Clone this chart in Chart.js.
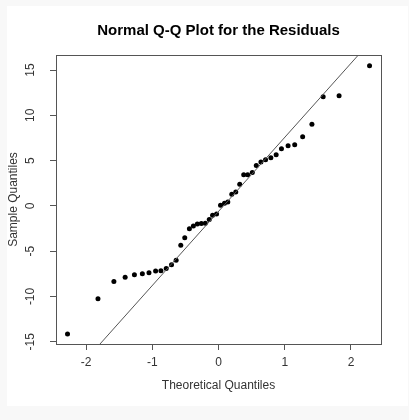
<!DOCTYPE html>
<html>
<head>
<meta charset="utf-8">
<script src="https://cdn.jsdelivr.net/npm/chart.js@4.4.0/dist/chart.umd.min.js"></script>
<style>
  html, body { margin: 0; padding: 0; background: #f8f8f8; }
  #wrap { position: absolute; left: 7px; top: 6px; width: 401px; height: 400px; background: #fff; }
</style>
</head>
<body>
<div id="wrap"><canvas id="qq" width="401" height="400"></canvas></div>
<script>
// valores
const theoretical = [-2.28, -1.82, -1.58, -1.41, -1.27, -1.15, -1.05, -0.95, -0.87, -0.79, -0.71,
  -0.64, -0.57, -0.51, -0.44, -0.38, -0.32, -0.26, -0.20, -0.14, -0.09, -0.03,
  0.03, 0.09, 0.14, 0.20, 0.26, 0.32, 0.38, 0.44, 0.51, 0.57, 0.64,
  0.71, 0.79, 0.87, 0.95, 1.05, 1.15, 1.27, 1.41, 1.58, 1.82, 2.28];
const sample = [-14.15, -10.25, -8.35, -7.89, -7.60, -7.49, -7.38, -7.19, -7.16, -6.90, -6.50,
  -6.01, -4.34, -3.52, -2.52, -2.22, -2.00, -1.95, -1.93, -1.51, -1.04, -0.90,
  0.06, 0.28, 0.43, 1.28, 1.53, 2.38, 3.44, 3.44, 3.70, 4.46, 4.84,
  5.10, 5.31, 5.65, 6.31, 6.64, 6.75, 7.64, 9.00, 12.05, 12.16, 15.47];

// reta de referência (qqline), pontos fora da área, cortada pelo gráfico
const lineX = [-3, 3];
const lineY = [-25.15, 23.93];

const xTicks = [-2, -1, 0, 1, 2];
const yTicks = [-15, -10, -5, 0, 5, 10, 15];

const TITLE = "Normal Q-Q Plot for the Residuals";
const FONT = "'Liberation Sans', Arial, Helvetica, sans-serif";
const AXIS_COLOR = "#555";

// título centrado na área do gráfico, moldura e rótulos do eixo y girados (estilo R)
const rStyle = {
  id: "rStyle",
  afterDraw(chart) {
    const { ctx, chartArea: a } = chart;
    ctx.save();
    ctx.strokeStyle = AXIS_COLOR;
    ctx.lineWidth = 1;
    ctx.strokeRect(a.left + 0.5, a.top + 0.5, a.right - a.left, a.bottom - a.top);

    ctx.fillStyle = "#000";
    ctx.font = "bold 15px " + FONT;
    ctx.textAlign = "center";
    ctx.textBaseline = "middle";
    ctx.fillText(TITLE, (a.left + a.right) / 2, 25);

    const ys = chart.scales.y;
    ctx.fillStyle = "#333";
    ctx.font = "12px " + FONT;
    ys.ticks.forEach((t) => {
      const py = ys.getPixelForValue(t.value);
      ctx.save();
      ctx.translate(24, py);
      ctx.rotate(-Math.PI / 2);
      ctx.fillText(String(t.value), 0, 0);
      ctx.restore();
    });
    ctx.restore();
  },
};

const points = theoretical.map((x, i) => ({ x: x, y: sample[i] }));
const refLine = lineX.map((x, i) => ({ x: x, y: lineY[i] }));

new Chart(document.getElementById("qq"), {
  type: "scatter",
  data: {
    datasets: [
      {
        type: "line",
        data: refLine,
        borderColor: "#555",
        borderWidth: 1,
        pointRadius: 0,
        fill: false,
      },
      {
        data: points,
        backgroundColor: "#000",
        borderWidth: 0,
        pointRadius: 2.5,
      },
    ],
  },
  options: {
    responsive: false,
    animation: false,
    events: [],
    layout: { padding: { left: 0, right: 27, top: 49, bottom: 0 } },
    plugins: {
      legend: { display: false },
      tooltip: { enabled: false },
      title: { display: false },
    },
    scales: {
      x: {
        type: "linear",
        min: -2.454,
        max: 2.453,
        afterFit: (s) => { s.height = 62; },
        afterBuildTicks: (s) => { s.ticks = xTicks.map((v) => ({ value: v })); },
        border: { display: false },
        grid: { drawOnChartArea: false, drawTicks: true, tickLength: 6, color: AXIS_COLOR },
        ticks: { color: "#333", padding: 5, font: { family: FONT, size: 12 } },
        title: {
          display: true,
          text: "Theoretical Quantiles",
          color: "#333",
          font: { family: FONT, size: 12 },
          padding: { top: 0, bottom: 13 },
        },
      },
      y: {
        type: "linear",
        min: -15.25,
        max: 16.66,
        afterFit: (s) => { s.width = 49; },
        afterBuildTicks: (s) => { s.ticks = yTicks.map((v) => ({ value: v })); },
        border: { display: false },
        grid: { drawOnChartArea: false, drawTicks: true, tickLength: 6, color: AXIS_COLOR },
        ticks: { display: false },
        title: {
          display: true,
          text: "Sample Quantiles",
          color: "#333",
          font: { family: FONT, size: 12, lineHeight: 1.1 },
          padding: { top: 0, bottom: 0 },
        },
      },
    },
  },
  plugins: [rStyle],
});
</script>
</body>
</html>
